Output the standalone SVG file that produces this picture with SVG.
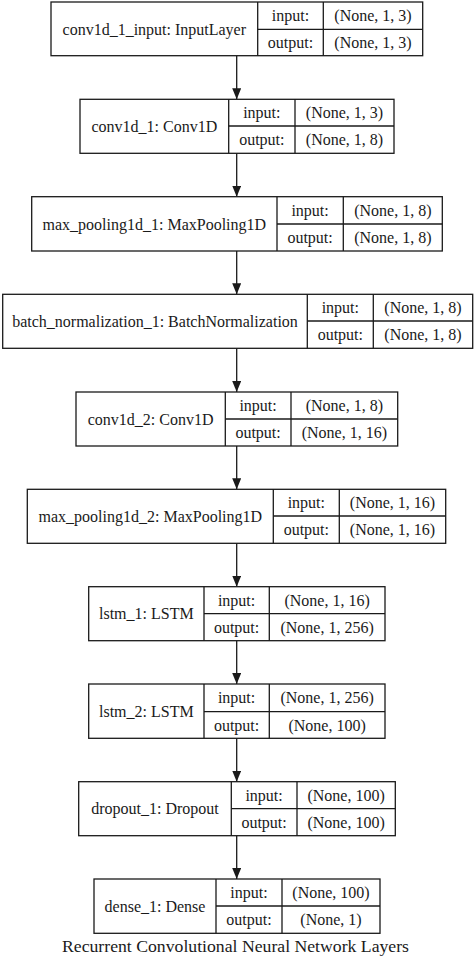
<svg xmlns="http://www.w3.org/2000/svg" width="474" height="964" viewBox="0 0 474 964">
<style>
.b{fill:#fff;stroke:#1a1a1a;stroke-width:1.3}
.d{stroke:#1a1a1a;stroke-width:1.3}
text{font-family:"Liberation Serif","Times New Roman",serif;font-size:16px;fill:#1a1a1a;text-anchor:middle}
.cap{font-size:17px}
.e{stroke:#1a1a1a;stroke-width:1.3;fill:none;marker-end:url(#ah)}
</style>
<defs>
<marker id="ah" markerUnits="userSpaceOnUse" markerWidth="11" markerHeight="9" refX="11" refY="4.5" orient="auto">
<path d="M0,0 L11,4.5 L0,9 z" fill="#1a1a1a"/>
</marker>
</defs>
<rect width="474" height="964" fill="#fff"/>
<g id="connectors">
<line class="e" x1="236.7" y1="55.7" x2="236.7" y2="99.3"/>
<line class="e" x1="236.7" y1="153.3" x2="236.7" y2="196.7"/>
<line class="e" x1="236.7" y1="251" x2="236.7" y2="294.3"/>
<line class="e" x1="236.7" y1="348.3" x2="236.7" y2="392"/>
<line class="e" x1="236.7" y1="446" x2="236.7" y2="489.3"/>
<line class="e" x1="236.7" y1="543.3" x2="236.7" y2="586.7"/>
<line class="e" x1="236.7" y1="640.7" x2="236.7" y2="684"/>
<line class="e" x1="236.7" y1="738.3" x2="236.7" y2="781.7"/>
<line class="e" x1="236.7" y1="835.7" x2="236.7" y2="879"/>
</g>
<g id="conv1d_1_input">
<rect class="b" x="51" y="2" width="371.7" height="53.7"/>
<line class="d" x1="257.7" y1="2" x2="257.7" y2="55.7"/>
<line class="d" x1="323.3" y1="2" x2="323.3" y2="55.7"/>
<line class="d" x1="257.7" y1="29.3" x2="422.7" y2="29.3"/>
<text x="154.3" y="34.8">conv1d_1_input: InputLayer</text>
<text x="290.5" y="21.2">input:</text>
<text x="373" y="21.2">(None, 1, 3)</text>
<text x="290.5" y="48">output:</text>
<text x="373" y="48">(None, 1, 3)</text>
</g>
<g id="conv1d_1">
<rect class="b" x="80" y="99.3" width="314" height="54"/>
<line class="d" x1="228.7" y1="99.3" x2="228.7" y2="153.3"/>
<line class="d" x1="295" y1="99.3" x2="295" y2="153.3"/>
<line class="d" x1="228.7" y1="126" x2="394" y2="126"/>
<text x="154.3" y="131.5">conv1d_1: Conv1D</text>
<text x="261.8" y="118.2">input:</text>
<text x="344.5" y="118.2">(None, 1, 3)</text>
<text x="261.8" y="145.2">output:</text>
<text x="344.5" y="145.2">(None, 1, 8)</text>
</g>
<g id="max_pooling1d_1">
<rect class="b" x="31.7" y="196.7" width="410.6" height="54.3"/>
<line class="d" x1="277" y1="196.7" x2="277" y2="251"/>
<line class="d" x1="343.3" y1="196.7" x2="343.3" y2="251"/>
<line class="d" x1="277" y1="224" x2="442.3" y2="224"/>
<text x="154.3" y="229.5">max_pooling1d_1: MaxPooling1D</text>
<text x="310.1" y="215.9">input:</text>
<text x="392.8" y="215.9">(None, 1, 8)</text>
<text x="310.1" y="243">output:</text>
<text x="392.8" y="243">(None, 1, 8)</text>
</g>
<g id="batch_normalization_1">
<rect class="b" x="2.7" y="294.3" width="470" height="54"/>
<line class="d" x1="307.3" y1="294.3" x2="307.3" y2="348.3"/>
<line class="d" x1="373.3" y1="294.3" x2="373.3" y2="348.3"/>
<line class="d" x1="307.3" y1="321" x2="472.7" y2="321"/>
<text x="155" y="326.5">batch_normalization_1: BatchNormalization</text>
<text x="340.3" y="313.2">input:</text>
<text x="423" y="313.2">(None, 1, 8)</text>
<text x="340.3" y="340.2">output:</text>
<text x="423" y="340.2">(None, 1, 8)</text>
</g>
<g id="conv1d_2">
<rect class="b" x="76" y="392" width="321.7" height="54"/>
<line class="d" x1="225.3" y1="392" x2="225.3" y2="446"/>
<line class="d" x1="291" y1="392" x2="291" y2="446"/>
<line class="d" x1="225.3" y1="419" x2="397.7" y2="419"/>
<text x="150.6" y="424.5">conv1d_2: Conv1D</text>
<text x="258.1" y="411">input:</text>
<text x="344.3" y="411">(None, 1, 8)</text>
<text x="258.1" y="438">output:</text>
<text x="344.3" y="438">(None, 1, 16)</text>
</g>
<g id="max_pooling1d_2">
<rect class="b" x="27.3" y="489.3" width="418.4" height="54"/>
<line class="d" x1="273.3" y1="489.3" x2="273.3" y2="543.3"/>
<line class="d" x1="339.3" y1="489.3" x2="339.3" y2="543.3"/>
<line class="d" x1="273.3" y1="516" x2="445.7" y2="516"/>
<text x="150.3" y="521.5">max_pooling1d_2: MaxPooling1D</text>
<text x="306.3" y="508.2">input:</text>
<text x="392.5" y="508.2">(None, 1, 16)</text>
<text x="306.3" y="535.2">output:</text>
<text x="392.5" y="535.2">(None, 1, 16)</text>
</g>
<g id="lstm_1">
<rect class="b" x="88.7" y="586.7" width="296.3" height="54"/>
<line class="d" x1="204" y1="586.7" x2="204" y2="640.7"/>
<line class="d" x1="269.3" y1="586.7" x2="269.3" y2="640.7"/>
<line class="d" x1="204" y1="613.7" x2="385" y2="613.7"/>
<text x="146.3" y="619.2">lstm_1: LSTM</text>
<text x="236.6" y="605.7">input:</text>
<text x="327.1" y="605.7">(None, 1, 16)</text>
<text x="236.6" y="632.7">output:</text>
<text x="327.1" y="632.7">(None, 1, 256)</text>
</g>
<g id="lstm_2">
<rect class="b" x="88.7" y="684" width="296.3" height="54.3"/>
<line class="d" x1="204" y1="684" x2="204" y2="738.3"/>
<line class="d" x1="269.3" y1="684" x2="269.3" y2="738.3"/>
<line class="d" x1="204" y1="711.7" x2="385" y2="711.7"/>
<text x="146.3" y="717.2">lstm_2: LSTM</text>
<text x="236.6" y="703.4">input:</text>
<text x="327.1" y="703.4">(None, 1, 256)</text>
<text x="236.6" y="730.5">output:</text>
<text x="327.1" y="730.5">(None, 100)</text>
</g>
<g id="dropout_1">
<rect class="b" x="78.7" y="781.7" width="316.6" height="54"/>
<line class="d" x1="231.3" y1="781.7" x2="231.3" y2="835.7"/>
<line class="d" x1="297" y1="781.7" x2="297" y2="835.7"/>
<line class="d" x1="231.3" y1="808.7" x2="395.3" y2="808.7"/>
<text x="155" y="814.2">dropout_1: Dropout</text>
<text x="264.1" y="800.7">input:</text>
<text x="346.1" y="800.7">(None, 100)</text>
<text x="264.1" y="827.7">output:</text>
<text x="346.1" y="827.7">(None, 100)</text>
</g>
<g id="dense_1">
<rect class="b" x="94" y="879" width="286" height="54.3"/>
<line class="d" x1="216" y1="879" x2="216" y2="933.3"/>
<line class="d" x1="282" y1="879" x2="282" y2="933.3"/>
<line class="d" x1="216" y1="906" x2="380" y2="906"/>
<text x="155" y="911.5">dense_1: Dense</text>
<text x="249" y="898">input:</text>
<text x="331" y="898">(None, 100)</text>
<text x="249" y="925.2">output:</text>
<text x="331" y="925.2">(None, 1)</text>
</g>
<text class="cap" x="235.5" y="952" textLength="347" lengthAdjust="spacingAndGlyphs">Recurrent Convolutional Neural Network Layers</text>
</svg>
